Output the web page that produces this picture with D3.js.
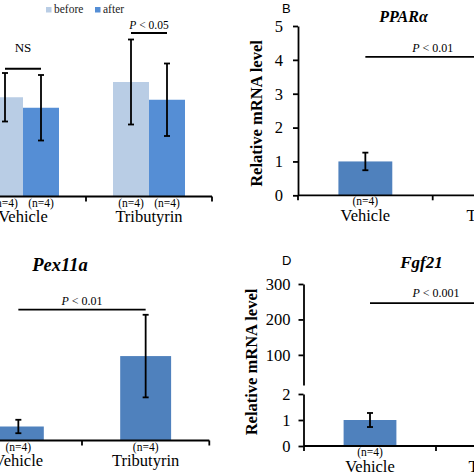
<!DOCTYPE html>
<html>
<head>
<meta charset="utf-8">
<script src="https://cdn.jsdelivr.net/npm/d3@7"></script>
<style>
  body { margin: 0; background: #fff; }
  svg { display: block; }
</style>
</head>
<body>
<svg id="fig" width="474" height="474"></svg>
<script>
// ---- data ----
const categories = ['Vehicle', 'Tributyrin'];
const seriesA = ['before', 'after'];
const beforeA = [3.97, 4.58];
const beforeErrA = [0.97, 1.70];
const afterA = [3.55, 3.87];
const afterErrA = [1.31, 1.45];
// only the Vehicle bar of PPARa / Fgf21 falls inside the crop
const ppara = [1.0];
const pparaErr = [0.26];
const pex11a = [1.0, 6.03];
const pex11aErr = [0.48, 2.95];
const fgf21 = [1.0];
const fgf21Err = [0.27];
const sampleN = [4, 4];
const ticksB = [0, 1, 2, 3, 4, 5];
const ticksDLow = [0, 1, 2];
const ticksDHigh = [100, 200, 300];
const sigA = [
  {from: ['Vehicle', 'before'], to: ['Vehicle', 'after'], level: 5.11, label: 'NS'},
  {from: ['Tributyrin', 'before'], to: ['Tributyrin', 'after'], level: 6.54, label: 'P < 0.05'}
];
const sigB = [{from: 'Vehicle', to: 'Tributyrin', level: 4.09, label: 'P < 0.01'}];
const sigC = [{from: 'Vehicle', to: 'Tributyrin', level: 9.35, label: 'P < 0.01'}];
const sigD = [{from: 'Vehicle', to: 'Tributyrin', level: 246, label: 'P < 0.001'}];

const SERIF = '"Liberation Serif", "Times New Roman", serif';
const SANS = '"Liberation Sans", Arial, sans-serif';
const colBefore = '#b9cde5';
const colAfter = '#558ed5';
const colBar = '#4f81bd';
const LW = 1.8;

const svg = d3.select('#fig');

function text(g, x, y, str, opt) {
  return g.append('text')
    .attr('x', x)
    .attr('y', y)
    .attr('font-family', opt.family || SERIF)
    .attr('font-size', opt.size)
    .attr('font-weight', opt.weight || 'normal')
    .attr('font-style', opt.style || 'normal')
    .attr('text-anchor', opt.anchor || 'middle')
    .attr('fill', opt.fill || '#000')
    .text(str);
}

// "P < 0.01" with italic P
function pLabel(g, x, y, str, size) {
  const t = g.append('text')
    .attr('x', x).attr('y', y)
    .attr('font-family', SERIF)
    .attr('font-size', size)
    .attr('text-anchor', 'middle');
  if (str.startsWith('P ')) {
    t.append('tspan').attr('font-style', 'italic').text('P');
    t.append('tspan').text(str.slice(1));
  } else {
    t.text(str);
  }
  return t;
}

function errorBar(g, cx, y, v, e) {
  g.append('line')
    .attr('x1', cx).attr('x2', cx)
    .attr('y1', y(v - e)).attr('y2', y(v + e))
    .attr('stroke', '#000').attr('stroke-width', LW);
  [v - e, v + e].forEach(d => {
    g.append('line')
      .attr('x1', cx - 3).attr('x2', cx + 3)
      .attr('y1', y(d)).attr('y2', y(d))
      .attr('stroke', '#000').attr('stroke-width', LW);
  });
}

// category axis: line, boundary ticks, (n=) and category labels
function catAxis(g, x, base, nCenters, labelSize) {
  const r = x.range();
  g.append('line')
    .attr('x1', r[0]).attr('x2', r[1])
    .attr('y1', base).attr('y2', base)
    .attr('stroke', '#000').attr('stroke-width', LW);
  d3.range(categories.length + 1).forEach(i => {
    const tx = r[0] + i * x.step();
    g.append('line')
      .attr('x1', tx).attr('x2', tx)
      .attr('y1', base).attr('y2', base + 5)
      .attr('stroke', '#000').attr('stroke-width', LW);
  });
  nCenters.forEach(d => text(g, d.x, base + 10, '(n=' + d.n + ')', {size: 11.5}));
  categories.forEach(c => text(g, x(c) + x.bandwidth() / 2, base + 25.5, c, {size: labelSize || 16.5}));
}

function sigBar(g, x1, x2, yy, label, gap, size) {
  g.append('line')
    .attr('x1', x1).attr('x2', x2)
    .attr('y1', yy).attr('y2', yy)
    .attr('stroke', '#000').attr('stroke-width', LW);
  pLabel(g, (x1 + x2) / 2, yy - gap, label, size);
}

function valueAxis(g, axisX, y, ticks, pad) {
  const ax = g.append('g')
    .attr('transform', 'translate(' + axisX + ',0)')
    .call(d3.axisLeft(y).tickValues(ticks).tickFormat(d3.format('d'))
      .tickSize(5).tickPadding(pad).tickSizeOuter(0));
  ax.attr('font-family', SERIF).attr('font-size', 16.5);
  ax.select('.domain').attr('stroke', '#000').attr('stroke-width', LW);
  ax.selectAll('.tick line').attr('stroke', '#000').attr('stroke-width', LW);
  ax.selectAll('.tick text').attr('fill', '#000');
  return ax;
}

function yLabel(g, x, y, str) {
  g.append('text')
    .attr('transform', 'translate(' + x + ',' + y + ') rotate(-90)')
    .attr('font-family', SERIF)
    .attr('font-size', 16.5)
    .attr('font-weight', 'bold')
    .attr('text-anchor', 'middle')
    .text(str);
}

// ---- panel A : before / after ----
(function () {
  const g = svg.append('g');
  const base = 196.5;
  const x0 = d3.scaleBand().domain(categories).range([-40, 212]);
  const x1 = d3.scaleBand().domain(seriesA).range([0, x0.bandwidth()]).paddingOuter(0.75);
  const y = d3.scaleLinear().domain([0, 6]).range([base, 46.5]);
  const vals = {before: beforeA, after: afterA};
  const errs = {before: beforeErrA, after: afterErrA};
  const cols = {before: colBefore, after: colAfter};
  const cx = (c, s) => x0(c) + x1(s) + x1.bandwidth() / 2;

  seriesA.forEach(s => {
    categories.forEach((c, i) => {
      g.append('rect')
        .attr('x', x0(c) + x1(s))
        .attr('y', y(vals[s][i]))
        .attr('width', x1.bandwidth())
        .attr('height', base - y(vals[s][i]))
        .attr('fill', cols[s]);
    });
  });
  seriesA.forEach(s => categories.forEach((c, i) => errorBar(g, cx(c, s), y, vals[s][i], errs[s][i])));

  const nc = [];
  categories.forEach((c, i) => seriesA.forEach(s => nc.push({x: cx(c, s), n: sampleN[i]})));
  catAxis(g, x0, base, nc);

  sigA.forEach(d => {
    const big = d.label === 'NS';
    sigBar(g, cx(d.from[0], d.from[1]), cx(d.to[0], d.to[1]), y(d.level), d.label,
      big ? 17 : 4, big ? 13 : 11.5);
  });

  // legend
  [{s: 'before', x: 46}, {s: 'after', x: 95}].forEach(d => {
    g.append('rect').attr('x', d.x).attr('y', 7).attr('width', 5.5).attr('height', 5.5).attr('fill', cols[d.s]);
    text(g, d.x + 8, 12.5, d.s, {size: 11.5, anchor: 'start', fill: '#222'});
  });
})();

// ---- panel B : PPARa ----
(function () {
  const g = svg.append('g');
  const base = 195.3;
  const x = d3.scaleBand().domain(categories).range([298, 567.4]).paddingInner(0.6).paddingOuter(0.3);
  const y = d3.scaleLinear().domain([0, 5]).range([base, 26]);
  const cx = c => x(c) + x.bandwidth() / 2;

  ppara.forEach((v, i) => {
    g.append('rect')
      .attr('x', x(categories[i])).attr('y', y(v))
      .attr('width', x.bandwidth()).attr('height', base - y(v))
      .attr('fill', colBar);
    errorBar(g, cx(categories[i]), y, v, pparaErr[i]);
  });
  valueAxis(g, 298, y, ticksB, 10);
  catAxis(g, x, base, categories.map((c, i) => ({x: cx(c), n: sampleN[i]})));
  sigB.forEach(d => sigBar(g, cx(d.from), cx(d.to), y(d.level), d.label, 5, 12));
  yLabel(g, 262, 113.5, 'Relative mRNA level');
  text(g, 403.5, 21.7, 'PPARα', {size: 16, weight: 'bold', style: 'italic'});
  text(g, 282, 12.7, 'B', {size: 13, family: SANS, anchor: 'start'});
})();

// ---- panel C : Pex11a ----
(function () {
  const g = svg.append('g');
  const base = 440.5;
  const x = d3.scaleBand().domain(categories).range([-45.3, 209.3]).paddingInner(0.6).paddingOuter(0.3);
  const y = d3.scaleLinear().domain([0, 10]).range([base, 300.5]);
  const cx = c => x(c) + x.bandwidth() / 2;

  pex11a.forEach((v, i) => {
    g.append('rect')
      .attr('x', x(categories[i])).attr('y', y(v))
      .attr('width', x.bandwidth()).attr('height', base - y(v))
      .attr('fill', colBar);
    errorBar(g, cx(categories[i]), y, v, pex11aErr[i]);
  });
  catAxis(g, x, base, categories.map((c, i) => ({x: cx(c), n: sampleN[i]})));
  sigC.forEach(d => sigBar(g, cx(d.from), cx(d.to), y(d.level), d.label, 4.5, 12));
  text(g, 60, 271, 'Pex11a', {size: 18.5, weight: 'bold', style: 'italic'});
})();

// ---- panel D : Fgf21 (broken axis) ----
(function () {
  const g = svg.append('g');
  const base = 446;
  const x = d3.scaleBand().domain(categories).range([304, 568]).paddingInner(0.6).paddingOuter(0.3);
  const yLow = d3.scaleLinear().domain([0, 2]).range([base, 394]);
  const yHigh = d3.scaleLinear().domain([15, 300]).range([385, 284]);
  const cx = c => x(c) + x.bandwidth() / 2;

  fgf21.forEach((v, i) => {
    g.append('rect')
      .attr('x', x(categories[i])).attr('y', yLow(v))
      .attr('width', x.bandwidth()).attr('height', base - yLow(v))
      .attr('fill', colBar);
    errorBar(g, cx(categories[i]), yLow, v, fgf21Err[i]);
  });
  valueAxis(g, 303.5, yLow, ticksDLow, 8);
  valueAxis(g, 303.5, yHigh, ticksDHigh, 8);
  catAxis(g, x, base, categories.map((c, i) => ({x: cx(c), n: sampleN[i]})));
  sigD.forEach(d => sigBar(g, cx(d.from), cx(d.to), yHigh(d.level), d.label, 6, 12));
  yLabel(g, 256.5, 362, 'Relative mRNA level');
  text(g, 421.5, 267.5, 'Fgf21', {size: 17, weight: 'bold', style: 'italic'});
  text(g, 282, 264.5, 'D', {size: 13, family: SANS, anchor: 'start'});
})();
</script>
</body>
</html>
